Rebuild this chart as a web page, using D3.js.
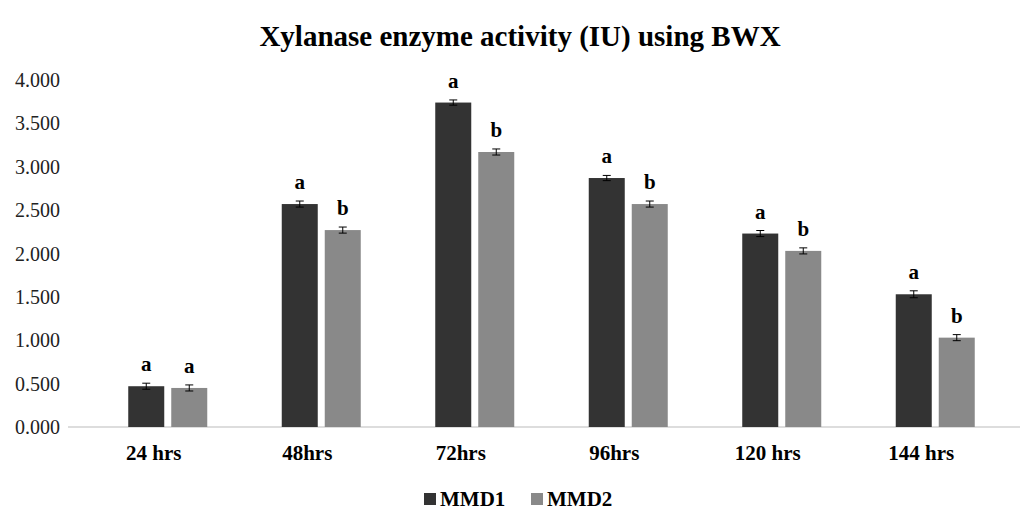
<!DOCTYPE html><html><head><meta charset="utf-8">
<script src="https://cdn.jsdelivr.net/npm/d3@7"></script>
<style>body{margin:0;background:#fff}text{font-family:"Liberation Serif","Times New Roman",serif}</style></head><body>
<svg id="c" width="1024" height="524"></svg>
<script>
const categories=["24 hrs","48hrs","72hrs","96hrs","120 hrs","144 hrs"];
const seriesNames=["MMD1","MMD2"];
const mmd1=[0.47,2.57,3.74,2.87,2.23,1.53];
const mmd2=[0.45,2.27,3.17,2.57,2.03,1.03];
const err1=[0.035,0.035,0.03,0.03,0.035,0.04];
const err2=[0.035,0.035,0.035,0.035,0.035,0.035];
const letters1=["a","a","a","a","a","a"];
const letters2=["a","b","b","b","b","b"];
const yTicks=[0,0.5,1,1.5,2,2.5,3,3.5,4];
const colors=["#333333","#898989"];
const svg=d3.select("#c");
const x=d3.scaleBand().domain(categories).range([91,1012]);
const y=d3.scaleLinear().domain([0,4]).range([427,80]);
svg.append("text").attr("x",520).attr("y",46).attr("text-anchor","middle").attr("font-size",29).attr("font-weight","bold").text("Xylanase enzyme activity (IU) using BWX");
svg.selectAll(".yt").data(yTicks).join("text").attr("x",60).attr("y",d=>y(d)+7).attr("text-anchor","end").attr("font-size",20).attr("fill","#222").text(d=>d3.format(".3f")(d));
svg.append("line").attr("x1",68).attr("x2",1020).attr("y1",y(0)).attr("y2",y(0)).attr("stroke","#bbb");
const bw=36,gap=7;
[mmd1,mmd2].forEach((vals,s)=>{
 const errs=s?err2:err1, lets=s?letters2:letters1;
 const cx=(i)=>x(categories[i])+x.bandwidth()/2+(s?gap/2+bw/2:-(gap/2+bw/2));
 vals.forEach((v,i)=>{
  svg.append("rect").attr("x",cx(i)-bw/2).attr("y",y(v)).attr("width",bw).attr("height",y(0)-y(v)).attr("fill",colors[s]);
  const e=errs[i];
  svg.append("line").attr("x1",cx(i)).attr("x2",cx(i)).attr("y1",y(v+e)).attr("y2",y(v-e)).attr("stroke","#000");
  [v+e,v-e].forEach(t=>svg.append("line").attr("x1",cx(i)-4).attr("x2",cx(i)+4).attr("y1",y(t)).attr("y2",y(t)).attr("stroke","#000"));
  svg.append("text").attr("x",cx(i)).attr("y",y(v+e)-12).attr("text-anchor","middle").attr("font-size",21).attr("font-weight","bold").text(lets[i]);
 });
});
svg.selectAll(".xl").data(categories).join("text").attr("x",d=>x(d)+x.bandwidth()/2-14).attr("y",460).attr("text-anchor","middle").attr("font-size",21).attr("font-weight","bold").text(d=>d);
seriesNames.forEach((n,i)=>{
 const lx=424+i*107;
 svg.append("rect").attr("x",lx).attr("y",493).attr("width",12).attr("height",12).attr("fill",colors[i]);
 svg.append("text").attr("x",lx+16).attr("y",506).attr("font-size",21).attr("font-weight","bold").text(n);
});
</script></body></html>
